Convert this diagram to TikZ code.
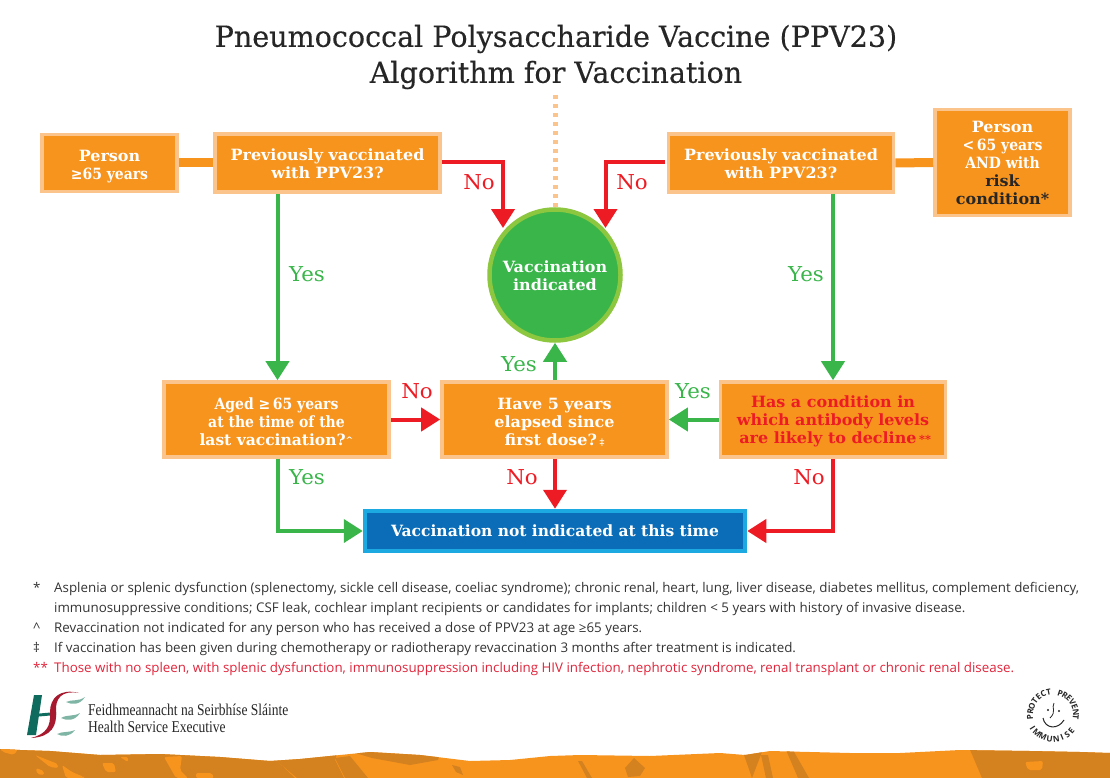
\documentclass[tikz,border=0pt]{standalone}
\usepackage{fontspec}
\setmainfont{Open Sans}
\newfontfamily\slab[FakeStretch=1.03]{DejaVu Serif}
\newfontfamily\slabn[FakeStretch=0.9]{DejaVu Serif}
\newfontfamily\slabm[FakeStretch=1.0]{DejaVu Serif}
\newfontfamily\lab[FakeStretch=1.04]{DejaVu Serif}
\newfontfamily\titlef[FakeStretch=0.985,FakeBold=0.25]{DejaVu Serif}
\newfontfamily\logof[FakeStretch=0.82]{Liberation Serif}
\usetikzlibrary{arrows.meta}
\definecolor{boxfill}{HTML}{F7941E}
\definecolor{boxedge}{HTML}{FBC48C}
\definecolor{yesg}{HTML}{39B54A}
\definecolor{circedge}{HTML}{8DC63F}
\definecolor{nor}{HTML}{ED1C24}
\definecolor{blueF}{HTML}{0B6DB7}
\definecolor{blueE}{HTML}{1CA9E1}
\definecolor{band}{HTML}{D4811F}
\definecolor{bandl}{HTML}{F7941E}
\definecolor{fnred}{HTML}{E0243A}
\definecolor{hsegreen}{HTML}{0E6B5E}
\definecolor{hsered}{HTML}{A6192E}
\definecolor{hsewave}{HTML}{7FB5A5}
\tikzset{
  qbox/.style={fill=boxfill,draw=boxedge,line width=3.6pt,inner sep=0pt,align=center,text=white,font=\slab\bfseries\fontsize{15.5}{18}\selectfont},
  yesline/.style={draw=yesg,line width=4pt,-{Triangle[length=19pt,width=23pt]}},
  noline/.style={draw=nor,line width=4pt,-{Triangle[length=19pt,width=23pt]}},
  yeslabel/.style={text=yesg,font=\lab\fontsize{20.5}{20}\selectfont},
  nolabel/.style={text=nor,font=\lab\fontsize{20.5}{20}\selectfont},
  fn/.style={anchor=base west,inner sep=0pt,font=\fontsize{13.35}{16}\selectfont,text=black!80},
  fnr/.style={fn,text=fnred},
  badge/.style={inner sep=0pt,font=\bfseries\fontsize{8.2}{8.2}\selectfont,text=black!85},
  patch/.style={rounded corners=2pt},
}
\begin{document}
\begin{tikzpicture}[x=1pt,y=-1pt]
\useasboundingbox (0,0) rectangle (1110,778);
% title
\node[font=\titlef\fontsize{29}{36}\selectfont,align=center,text=black!85] (title) at (556,57) {Pneumococcal Polysaccharide Vaccine (PPV23)\\Algorithm for Vaccination};
% dotted guide
\coordinate (dottop) at (555,95);
\node[circle,fill=yesg,draw=circedge,line width=4.5pt,minimum size=131pt,inner sep=0pt,align=center,text=white,font=\slab\bfseries\fontsize{15.5}{18}\selectfont] (vi) at (555,275) {\rule{0pt}{14pt}Vaccination\\indicated};
\draw[boxedge,line width=5pt,dash pattern=on 4pt off 5pt] (dottop) -- (vi.north);
% boxes
\node[qbox,minimum width=135pt,minimum height=57pt] (p1) at (109.5,163) {\rule{0pt}{18pt}Person\\{\slabn\bfseries ≥65 years}};
\node[qbox,minimum width=225pt,minimum height=58pt] (q1) at (327.5,163) {\rule{0pt}{14pt}Previously vaccinated\\with PPV23?};
\node[qbox,minimum width=225pt,minimum height=58pt] (q2) at (781,163) {\rule{0pt}{14pt}Previously vaccinated\\with PPV23?};
\node[qbox,minimum width=135pt,minimum height=106pt] (p2) at (1002.5,162.5) {Person\\{\slabn\bfseries{<}\,65 years}\\{\slabn\bfseries AND with}\\\textcolor{black!85}{risk}\\\textcolor{black!85}{condition*}};
\node[qbox,minimum width=225pt,minimum height=75pt] (aged) at (276.5,419.5) {\rule{0pt}{16pt}{\slabn\bfseries Aged ≥\,65 years}\\{\slabn\bfseries at the time of the}\\{\slabm\bfseries last vaccination?}\raisebox{2pt}{\fontsize{9}{9}\selectfont\textasciicircum}};
\node[qbox,minimum width=225pt,minimum height=75pt] (have) at (554.5,419.5) {\rule{0pt}{16pt}Have 5 years\\elapsed since\\first dose?\,{\fontsize{9}{9}\selectfont‡}};
\node[qbox,minimum width=225pt,minimum height=75pt,text=nor] (cond) at (833,419.5) {\rule{0pt}{16pt}Has a condition in\\which antibody levels\\\;are likely to decline\,{\fontsize{11}{11}\selectfont**}};
\node[qbox,fill=blueF,draw=blueE,line width=4.5pt,minimum width=380pt,minimum height=40pt,font=\slabm\bfseries\fontsize{15.5}{18}\selectfont] (not) at (555,531) {Vaccination not indicated at this time};
% orange links
\draw[boxfill,line width=9pt] (p1.east) -- (q1.west);
\draw[boxfill,line width=9pt] (q2.east) -- (p2.west);
% helper corners
\coordinate (c1) at (503,162);
\coordinate (c2) at (605.5,162);
\coordinate (c3) at (277.5,531);
\coordinate (c4) at (833,531);
\coordinate (q1e) at (441.5,162);
\coordinate (q2w) at (665,162);
\coordinate (t1) at (503,228);
\coordinate (t2) at (605.5,228);
% connectors
\draw[noline] (q1e) -- (c1) -- (t1);
\draw[noline] (q2w) -- (c2) -- (t2);
\draw[yesline] (q1.south -| c3) -- (aged.north -| c3);
\draw[yesline] (q2.south -| c4) -- (cond.north -| c4);
\draw[noline] (aged.east) -- (have.west);
\draw[yesline] (cond.west) -- (have.east);
\draw[yesline] (have.north -| vi.south) -- (vi.south);
\draw[noline] (have.south -| not.north) -- (not.north);
\draw[yesline] (aged.south -| c3) -- (c3) -- (not.west);
\draw[noline] (cond.south -| c4) -- (c4) -- (not.east);
% labels
\node[nolabel] (l1) at (479,182) {No};
\node[nolabel] (l2) at (632,182) {No};
\node[yeslabel] (l3) at (307,274) {Yes};
\node[yeslabel] (l4) at (806,274) {Yes};
\node[yeslabel] (l5) at (519,364) {Yes};
\node[nolabel] (l6) at (417,391) {No};
\node[yeslabel] (l7) at (693,391) {Yes};
\node[yeslabel] (l8) at (307,477) {Yes};
\node[nolabel] (l9) at (522,477) {No};
\node[nolabel] (l10) at (809,477) {No};
% footnotes
\node[fn] (m1) at (33,592) {*};
\node[fn] (f1) at (54,592) {Asplenia or splenic dysfunction (splenectomy, sickle cell disease, coeliac syndrome); chronic renal, heart, lung, liver disease, diabetes mellitus, complement deficiency,};
\node[fn] (f2) at (54,612) {immunosuppressive conditions; CSF leak, cochlear implant recipients or candidates for implants; children < 5 years with history of invasive disease.};
\node[fn] (m3) at (33,632) {\textasciicircum};
\node[fn] (f3) at (54,632) {Revaccination not indicated for any person who has received a dose of PPV23 at age ≥65 years.};
\node[fn] (m4) at (33,652) {‡};
\node[fn] (f4) at (54,652) {If vaccination has been given during chemotherapy or radiotherapy revaccination 3 months after treatment is indicated.};
\node[fnr] (m5) at (33,672) {**};
\node[fnr] (f5) at (54,672) {Those with no spleen, with splenic dysfunction, immunosuppression including HIV infection, nephrotic syndrome, renal transplant or chronic renal disease.};
% HSE logo
\fill[hsegreen] (34,695) -- (42,695) -- (36,735) -- (27,735) -- cycle;
\fill[hsegreen] (34,714) -- (56,712) -- (56,715) -- (33,717) -- cycle;
\fill[hsered] (79,693) .. controls (62,690) and (55,698) .. (56,712) .. controls (57,725) and (52,737) .. (31,738) .. controls (46,734) and (51,727) .. (50,712) .. controls (50,698) and (60,688) .. (79,693) -- cycle;
\fill[hsewave] (66,702) .. controls (72,699) and (78,702) .. (85,697) .. controls (80,705) and (72,705) .. (66,702) -- cycle;
\fill[hsewave] (61,718) .. controls (68,714) and (73,717) .. (80,713) .. controls (75,721) and (67,721) .. (61,718) -- cycle;
\fill[hsewave] (57,734) .. controls (63,731) and (68,733) .. (75,730) .. controls (70,737) and (62,737) .. (57,734) -- cycle;
\node[anchor=base west,inner sep=0pt,font=\logof\fontsize{16.5}{16.5}\selectfont,text=black!85] (lg1) at (88,715) {Feidhmeannacht na Seirbhíse Sláinte};
\node[anchor=base west,inner sep=0pt,font=\logof\fontsize{16.5}{16.5}\selectfont,text=black!85] (lg2) at (88,732) {Health Service Executive};
% immunise badge
\foreach \l/\a [count=\i] in {P/185,R/171,O/157,T/143,E/129,C/115,T/101,P/72,R/59,E/46,V/33,E/20,N/7,T/-6}{
  \node[badge,rotate=\a-90] (ba\i) at ({1053+23*cos(\a)},{715-23*sin(\a)}) {\l};
}
\foreach \l/\a [count=\i] in {I/212,M/228,M/245,U/262,N/278,I/292,S/306,E/320}{
  \node[badge,rotate=\a+90] (bb\i) at ({1053+24*cos(\a)},{715-24*sin(\a)}) {\l};
}
\draw[black!85,line width=1pt] (1043,718) .. controls (1045,729) and (1058,730) .. (1064,720);
\fill[black!85] (1048,710) circle[radius=1.2];
\fill[black!85] (1059,711) circle[radius=1.2];
\draw[black!85,line width=.8pt] (1054,703) .. controls (1051,708) and (1057,711) .. (1050,718);
% bottom band
\begin{scope}
\clip (0,749) -- (20,750) -- (50,751) -- (100,755) -- (160,754) -- (220,757) -- (270,761) -- (300,759) -- (340,755) -- (370,752) -- (420,755) -- (470,761) -- (510,760) -- (550,756) -- (580,755) -- (650,756) -- (720,753) -- (745,755) -- (770,751) -- (850,753) -- (900,753) -- (960,750) -- (1030,751) -- (1080,752) -- (1110,753) -- (1110,778) -- (0,778) -- cycle;
\fill[bandl] (0,745) rectangle (1110,778);
\fill[band] (0,745) -- (280,745) -- (278,762) -- (295,778) -- (0,778) -- cycle;
\fill[band] (278,745) -- (340,745) -- (335,760) -- (344,778) -- (297,778) -- (278,762) -- cycle;
\fill[band] (335,758) -- (350,756) -- (368,778) -- (345,778) -- cycle;
\fill[band] (352,752) -- (390,745) -- (440,752) -- (438,760) -- (410,765) -- (372,758) -- cycle;
\fill[band] (968,745) -- (1110,745) -- (1110,778) -- (982,778) -- cycle;
\fill[band] (743,752) -- (762,752) -- (752,778) -- cycle;
\fill[band] (761,755) -- (768,755) -- (773,778) -- (766,778) -- cycle;
\fill[band] (786,750) -- (793,750) -- (809,778) -- (798,778) -- cycle;
\fill[band] (625,768) -- (634,758) -- (645,768) -- (640,776) -- (628,777) -- cycle;
\fill[band] (578,761) -- (582,761) -- (592,778) -- (587,778) -- cycle;
\fill[band] (452,765) -- (460,767) -- (463,775) -- (456,772) -- cycle;
\fill[bandl,patch] (0,749) -- (18,749) -- (14,755) -- (3,752) -- cycle;
\fill[bandl,patch] (35,755) -- (58,764) -- (58,768) -- (50,767) -- cycle;
\fill[bandl,patch] (62,765) -- (72,772) -- (84,777) -- (84,778) -- (66,778) -- cycle;
\fill[bandl,patch] (102,763) -- (114,763) -- (116,772) -- (106,772) -- cycle;
\fill[bandl,patch] (120,757) -- (128,757) -- (128,762) -- cycle;
\fill[bandl,patch] (36,768) -- (44,771) -- (44,775) -- (37,774) -- cycle;
\fill[bandl,patch] (164,757) -- (182,756) -- (180,770) -- (188,778) -- (176,778) -- cycle;
\fill[bandl,patch] (196,773) -- (212,773) -- (214,778) -- (196,778) -- cycle;
\fill[bandl,patch] (1025,762) -- (1043,761) -- (1042,770) -- (1028,770) -- cycle;
\end{scope}
\end{tikzpicture}
\end{document}
